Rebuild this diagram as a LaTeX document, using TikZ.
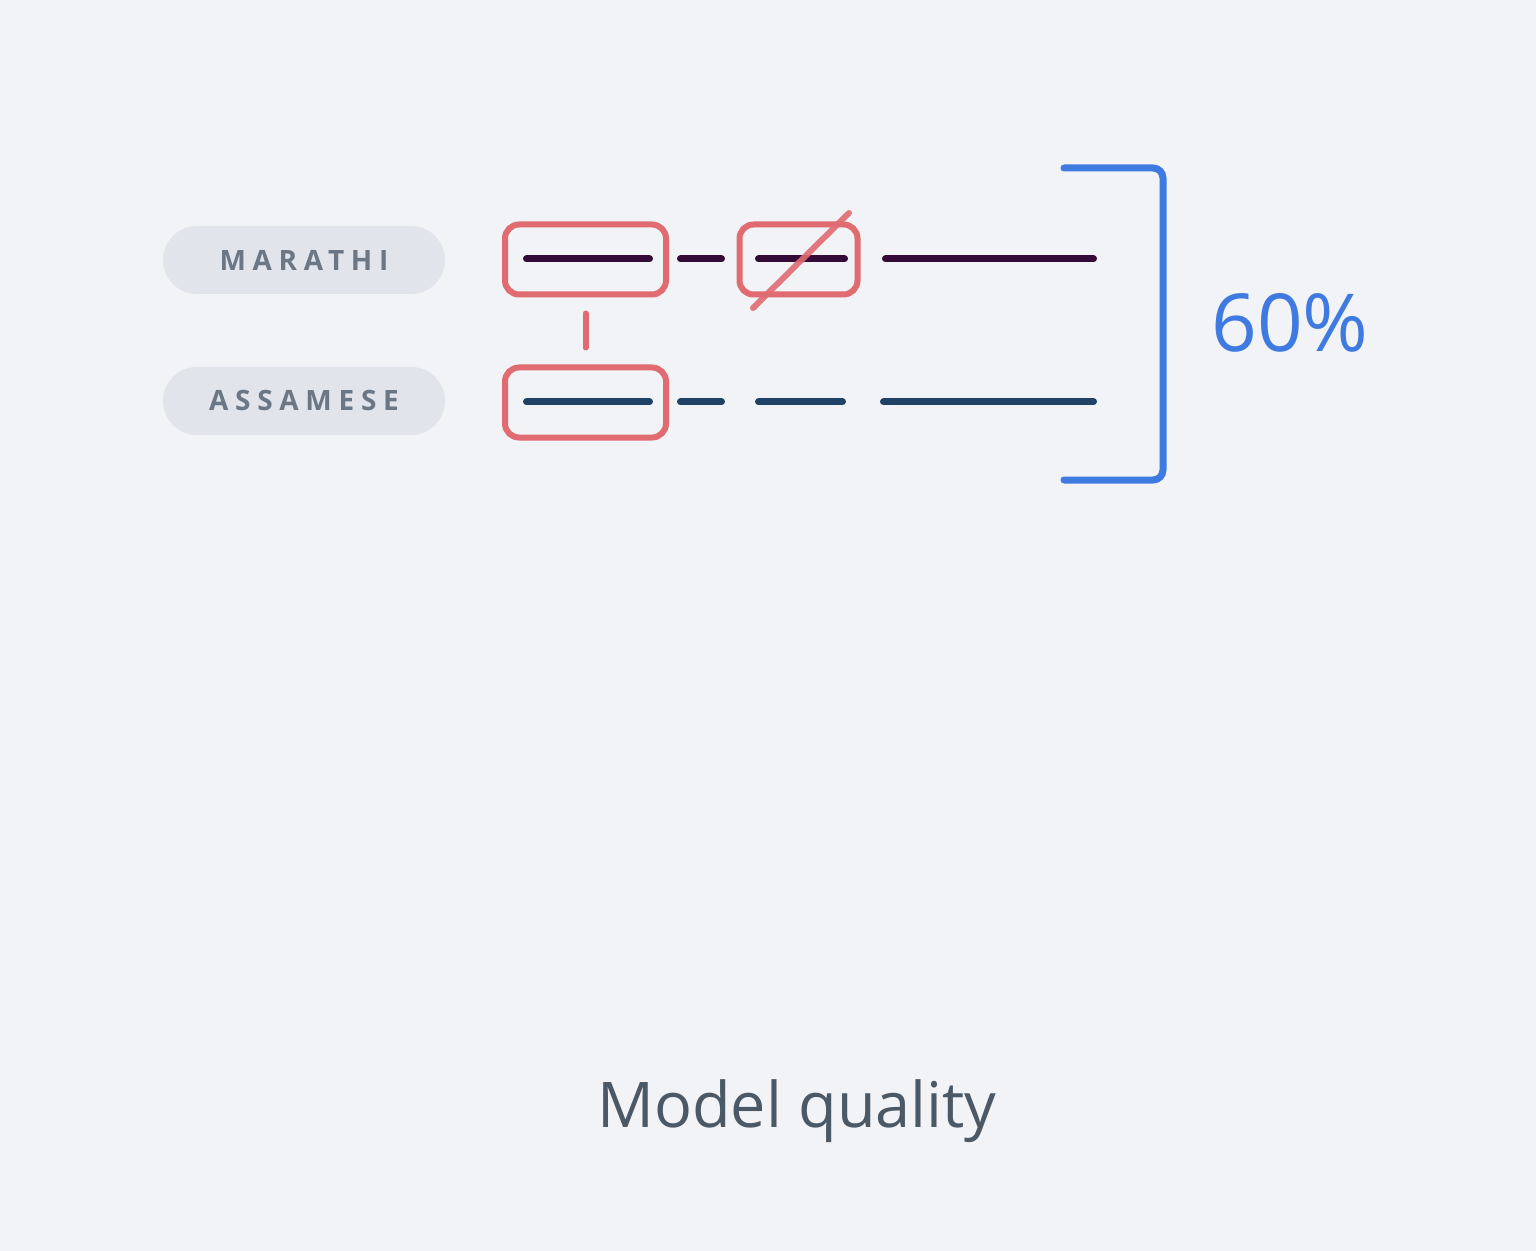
\documentclass[tikz,border=0pt]{standalone}
\usepackage{fontspec}
\setmainfont{Open Sans}
\newfontfamily\pillfont[LetterSpace=24]{Open Sans}
\newfontfamily\mainfont{Open Sans}
\definecolor{bg}{HTML}{F1F3F7}
\definecolor{pillbg}{HTML}{E1E5EB}
\definecolor{pilltext}{HTML}{6B7785}
\definecolor{redbox}{HTML}{E06B70}
\definecolor{mar}{HTML}{350A36}
\definecolor{ass}{HTML}{1F4266}
\definecolor{brack}{HTML}{3F7AE0}
\definecolor{cap}{HTML}{4B5866}
\tikzset{
  pill/.style={fill=pillbg, rounded corners=17pt, minimum width=141pt, minimum height=34pt, inner sep=0pt, text=pilltext, font=\pillfont\bfseries\fontsize{14}{15}\selectfont},
  redrect/.style={draw=redbox, line width=3pt, rounded corners=7pt, inner sep=0pt},
  marline/.style={draw=mar, line width=3.5pt, line cap=round},
  assline/.style={draw=ass, line width=3.5pt, line cap=round},
  redline/.style={draw=redbox, line width=3pt, line cap=round},
}
\begin{document}
\begin{tikzpicture}[x=0.5pt,y=-0.5pt]
\fill[bg] (0,0) rectangle (1536,1251);
\useasboundingbox (0,0) rectangle (1536,1251);
% pills
\node[pill] (mpill) at (304,260) {MARATHI};
\node[pill] (apill) at (304,401) {ASSAMESE};
% red boxes
\node[redrect, minimum width=80.5pt, minimum height=35pt] (b1) at (585.5,259.5) {};
\node[redrect, minimum width=59pt, minimum height=35pt] (b2) at (798.5,259.5) {};
\node[redrect, minimum width=80.5pt, minimum height=35pt] (b3) at (585.5,402.5) {};
% marathi segments
\coordinate (m1a) at (526.5,259); \coordinate (m1b) at (649.5,259);
\coordinate (m2a) at (680.5,259); \coordinate (m2b) at (721.5,259);
\coordinate (m3a) at (758.5,259); \coordinate (m3b) at (844.5,259);
\coordinate (m4a) at (885.5,259); \coordinate (m4b) at (1093.5,259);
\draw[marline] (m1a) -- (m1b);
\draw[marline] (m2a) -- (m2b);
\draw[marline] (m3a) -- (m3b);
\draw[marline] (m4a) -- (m4b);
% assamese segments
\coordinate (a1a) at (526.5,402); \coordinate (a1b) at (649.5,402);
\coordinate (a2a) at (680.5,402); \coordinate (a2b) at (721.5,402);
\coordinate (a3a) at (758.5,402); \coordinate (a3b) at (842.5,402);
\coordinate (a4a) at (883.5,402); \coordinate (a4b) at (1093.5,402);
\draw[assline] (a1a) -- (a1b);
\draw[assline] (a2a) -- (a2b);
\draw[assline] (a3a) -- (a3b);
\draw[assline] (a4a) -- (a4b);
% vertical connector
\draw[redline, shorten <=8pt, shorten >=8.5pt] (b1.south) -- (b3.north);
% slash
\coordinate (s1) at (753,308); \coordinate (s2) at (849,213);
\draw[redline, opacity=0.9] (s1) -- (s2);
% bracket
\coordinate (bt) at (1064,168); \coordinate (bb) at (1064,480);
\draw[draw=brack, line width=3.5pt, line cap=round, rounded corners=5pt] (bt) -- (1163,168) -- (1163,480) -- (bb);
\node[text=brack, font=\mainfont\fontsize{40}{42}\selectfont, inner sep=0pt] (pct) at (1290,323) {60\%};
% caption
\node[text=cap, font=\mainfont\fontsize{31.5}{33}\selectfont, inner sep=0pt] (mq) at (797,1111) {Model quality};
\end{tikzpicture}
\end{document}
